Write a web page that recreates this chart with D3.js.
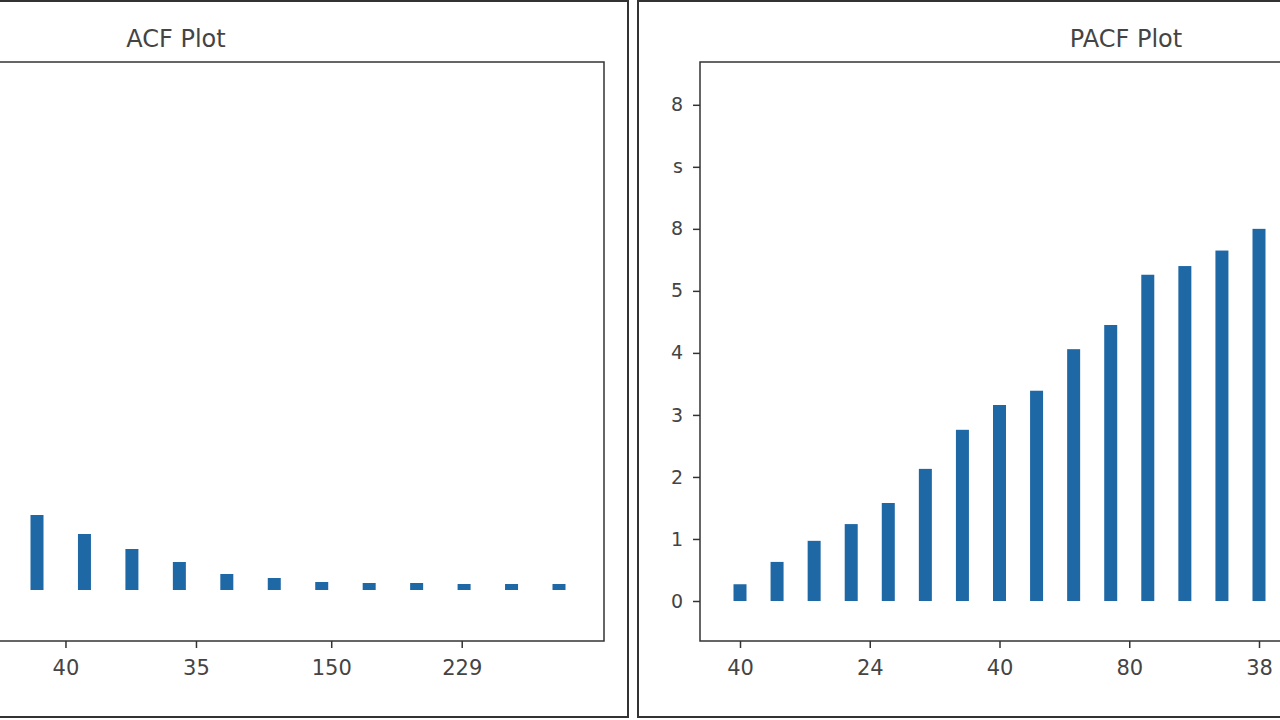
<!DOCTYPE html><html><head><meta charset="utf-8">
<script src="https://cdn.jsdelivr.net/npm/d3@7"></script>
<style>body{margin:0;background:#fff}svg{display:block}text{font-family:"DejaVu Sans",sans-serif}</style></head><body>
<script>
const acfLags=[0,1,2,3,4,5,6,7,8,9,10,11];
const acfValues=[0.75,0.56,0.41,0.28,0.16,0.12,0.08,0.07,0.07,0.06,0.06,0.06];
const acfTickPos=[0.6,3.35,6.2,8.95];
const acfTickLabels=["40","35","150","229"];
const pacfLags=[0,1,2,3,4,5,6,7,8,9,10,11,12,13,14];
const pacfValues=[0.27,0.63,0.97,1.24,1.58,2.13,2.76,3.16,3.39,4.06,4.45,5.26,5.40,5.65,6.0];
const pacfTickPos=[0,3.5,7,10.5,14];
const pacfTickLabels=["40","24","40","80","38"];
const pacfYTicks=[0,1,2,3,4,5,6,7,8];
const pacfYLabels=["0","1","2","3","4","5","8","s","8"];

const svg=d3.select("body").append("svg").attr("width",1280).attr("height",720);
const col="#1f68a6", grey="#444";
// frames
svg.append("rect").attr("x",-3).attr("y",1).attr("width",631).attr("height",716).attr("fill","none").attr("stroke","#333").attr("stroke-width",2);
svg.append("rect").attr("x",638).attr("y",1).attr("width",650).attr("height",716).attr("fill","none").attr("stroke","#333").attr("stroke-width",2);

function panel(o){
  const g=svg.append("g");
  g.append("rect").attr("x",o.x0).attr("y",62).attr("width",o.x1-o.x0).attr("height",579).attr("fill","none").attr("stroke","#333").attr("stroke-width",1.5);
  g.append("text").attr("x",o.tx).attr("y",47).attr("text-anchor","middle").attr("font-size",24).attr("fill",grey).text(o.title);
  const x=d3.scaleLinear().domain(o.xd).range(o.xr);
  const y=d3.scaleLinear().domain(o.yd).range([641,62]);
  g.selectAll(".b").data(o.lags).join("rect").attr("fill",col)
   .attr("x",d=>x(d)-o.bw/2).attr("width",o.bw)
   .attr("y",(d,i)=>y(o.vals[i])).attr("height",(d,i)=>y(0)-y(o.vals[i]));
  const xa=g.append("g").attr("transform","translate(0,641)")
   .call(d3.axisBottom(x).tickValues(o.tp).tickFormat((d,i)=>o.tl[i]).tickSize(7).tickPadding(12));
  xa.select(".domain").remove();
  xa.selectAll("line").attr("stroke","#333").attr("stroke-width",1.5);
  xa.selectAll("text").attr("font-size",21).attr("fill",grey);
  if(o.yt){
    const ya=g.append("g").attr("transform",`translate(${o.x0},0)`)
     .call(d3.axisLeft(y).tickValues(o.yt).tickFormat((d,i)=>o.yl[i]).tickSize(7).tickPadding(10));
    ya.select(".domain").remove();
    ya.selectAll("line").attr("stroke","#333").attr("stroke-width",1.5);
    ya.selectAll("text").attr("font-size",19).attr("fill",grey);
  }
}
panel({x0:-5,x1:604,tx:176,title:"ACF Plot",lags:acfLags,vals:acfValues,xd:[0,11],xr:[37,559],bw:13,
  yd:[-0.51,5.28],tp:acfTickPos,tl:acfTickLabels});
panel({x0:700,x1:1290,tx:1126,title:"PACF Plot",lags:pacfLags,vals:pacfValues,xd:[0,14],xr:[740,1259],bw:13,
  yd:[-0.645,8.69],tp:pacfTickPos,tl:pacfTickLabels,yt:pacfYTicks,yl:pacfYLabels});
</script></body></html>
